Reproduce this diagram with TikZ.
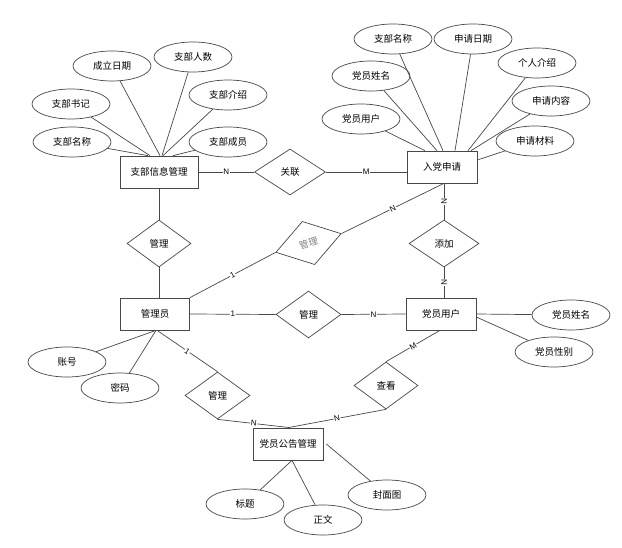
\documentclass[tikz,border=0pt]{standalone}
\usepackage{fontspec}
\setmainfont{Noto Sans CJK SC}
\newfontfamily\labfont{Liberation Sans}
\usetikzlibrary{shapes.geometric}
\tikzset{
  ln/.style={draw=black!72, line width=0.7pt},
  ent/.style={rectangle, ln, fill=white, minimum width=70pt, minimum height=32pt, inner sep=0pt, font=\fontsize{9.5}{10}\selectfont},
  attr/.style={ellipse, ln, fill=white, minimum width=78pt, minimum height=30pt, inner sep=0pt, font=\fontsize{9.5}{10}\selectfont},
  rel/.style={diamond, ln, fill=white, minimum width=65pt, minimum height=47pt, inner sep=0pt, font=\fontsize{9.5}{10}\selectfont},
  card/.style={midway, sloped, fill=white, inner sep=0.6pt, font=\labfont\fontsize{8}{8}\selectfont}
}
\begin{document}
\begin{tikzpicture}[x=1pt, y=-1pt]
\useasboundingbox (0,0) rectangle (622,548);
% entities
\node[ent, minimum width=78pt] (b1) at (159,172) {支部信息管理};
\node[ent] (b2) at (442,167) {入党申请};
\node[ent, minimum width=69pt] (b3) at (155,314) {管理员};
\node[ent] (b4) at (441,314) {党员用户};
\node[ent] (b5) at (288,444) {党员公告管理};
% relations
\node[rel, minimum width=71pt, minimum height=46pt] (d1) at (290,172) {关联};
\node[rel, minimum width=64pt] (d2) at (159,243.5) {管理};
\node[rel, minimum width=68pt, minimum height=45pt, rotate=16, text=black!50] (d3) at (308.5,243) {管理};
\node[rel, minimum width=70pt] (d4) at (444,243.5) {添加};
\node[rel] (d5) at (308.5,314.5) {管理};
\node[rel] (d6) at (217.5,395.5) {管理};
\node[rel, minimum width=64pt] (d7) at (386,385.5) {查看};
% attributes of 支部信息管理
\node[attr] (e11) at (112,66) {成立日期};
\node[attr] (e12) at (193,57) {支部人数};
\node[attr] (e13) at (71,104) {支部书记};
\node[attr] (e14) at (228,95) {支部介绍};
\node[attr] (e15) at (72,142) {支部名称};
\node[attr] (e16) at (228,142) {支部成员};
% attributes of 入党申请
\node[attr] (e21) at (393,39) {支部名称};
\node[attr] (e22) at (473,39) {申请日期};
\node[attr] (e23) at (537,63) {个人介绍};
\node[attr] (e24) at (371,76) {党员姓名};
\node[attr] (e25) at (551,101) {申请内容};
\node[attr] (e26) at (361,119) {党员用户};
\node[attr] (e27) at (535,141) {申请材料};
% attributes of 管理员
\node[attr] (e31) at (67,362) {账号};
\node[attr] (e32) at (120,388) {密码};
% attributes of 党员用户
\node[attr] (e41) at (571,315) {党员姓名};
\node[attr] (e42) at (554,352) {党员性别};
% attributes of 党员公告管理
\node[attr] (e51) at (245,504) {标题};
\node[attr] (e52) at (323,520) {正文};
\node[attr] (e53) at (387,495) {封面图};
% attribute connectors
\draw[ln] (e11) -- ([xshift=1pt]b1.north);
\draw[ln] (e12) -- ([xshift=3pt]b1.north);
\draw[ln] (e13) -- ([xshift=-9pt]b1.north);
\draw[ln] (e14) -- ([xshift=4pt]b1.north);
\draw[ln] (e15) -- ([xshift=-11pt]b1.north);
\draw[ln] (e16) -- ([xshift=14pt]b1.north);
\draw[ln] (e21) -- ([xshift=1pt]b2.north);
\draw[ln] (e22) -- ([xshift=13pt]b2.north);
\draw[ln] (e23) -- ([xshift=26pt]b2.north);
\draw[ln] (e24) -- ([xshift=-5pt]b2.north);
\draw[ln] (e25) -- ([xshift=29pt]b2.north);
\draw[ln] (e26) -- ([xshift=-17pt]b2.north);
\draw[ln] (e27) -- ([yshift=7pt]b2.east);
\draw[ln] (e31) -- ([xshift=1pt]b3.south);
\draw[ln] (e32) -- ([xshift=1pt]b3.south);
\draw[ln] (e41) -- (b4.east);
\draw[ln] (e42) -- ([yshift=-3pt]b4.east);
\draw[ln] (e51) -- ([xshift=4pt]b5.south);
\draw[ln] (e52) -- ([xshift=4pt]b5.south);
\draw[ln] (e53) -- ([xshift=3pt]b5.east);
% relation connectors
\draw[ln] (b1.east) -- (d1.west) node[card] {N};
\draw[ln] (d1.east) -- (d1.east -| b2.west) node[card] {M};
\draw[ln] (b1.south) -- (d2.north);
\draw[ln] (d2.south) -- (d2.south |- b3.north);
\draw[ln] (b3.north east) -- (d3.west) node[card] {1};
\draw[ln] (d3.east) -- (d4.north |- b2.south) node[card] {N};
\draw[ln] (d4.north |- b2.south) -- (d4.north) node[card] {N};
\draw[ln] (d4.south) -- (d4.south |- b4.north) node[card] {N};
\draw[ln] (b3.east) -- (d5.west) node[card] {1};
\draw[ln] (d5.east) -- (b4.west) node[card] {N};
\draw[ln] ([xshift=2pt]b3.south) -- (d6.north) node[card] {1};
\draw[ln] (d6.south) -- ([xshift=2pt]b5.north) node[card] {N};
\draw[ln] (d7.south) -- (b5.north) node[card] {N};
\draw[ln] (d7.north) -- ([xshift=-1pt]b4.south) node[card] {M};
\end{tikzpicture}
\end{document}
